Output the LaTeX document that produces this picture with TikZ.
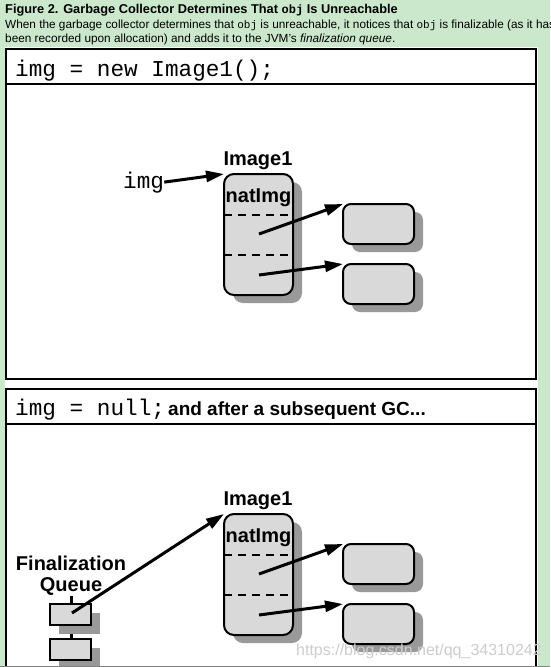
\documentclass[tikz,border=0pt]{standalone}
\usepackage{fontspec}
\setmainfont{Liberation Sans}
\newfontfamily\monofont{Liberation Mono}
\usetikzlibrary{arrows.meta,shadows}
\definecolor{bggreen}{RGB}{204,232,204}
\definecolor{boxgray}{RGB}{217,217,217}
\definecolor{shadowgray}{RGB}{153,153,153}
\definecolor{wmgray}{RGB}{205,205,205}
\tikzset{
  panel/.style={draw=black, line width=1.5pt},
  bigbox/.style={draw, line width=2pt, rounded corners=10pt, fill=boxgray,
    minimum width=69pt, minimum height=121pt, inner sep=0pt, outer sep=0pt,
    drop shadow={shadow xshift=9pt, shadow yshift=-8pt, fill=shadowgray, opacity=1}},
  smallbox/.style={draw, line width=2pt, rounded corners=8pt, fill=boxgray,
    minimum width=71pt, minimum height=40pt, inner sep=0pt, outer sep=0pt,
    drop shadow={shadow xshift=9pt, shadow yshift=-8pt, fill=shadowgray, opacity=1}},
  qbox/.style={draw, line width=2pt, fill=boxgray,
    minimum width=41pt, minimum height=21pt, inner sep=0pt, outer sep=0pt,
    drop shadow={shadow xshift=9pt, shadow yshift=-9pt, fill=shadowgray, opacity=1}},
  arr/.style={line width=3pt, -{Triangle[length=18pt,width=11pt]}},
  dashsep/.style={line width=1.8pt, dash pattern=on 8pt off 6pt},
  lab/.style={font=\fontsize{20}{22}\selectfont\bfseries, inner sep=0pt},
  code/.style={font=\fontsize{22.7}{24}\selectfont\monofont, inner sep=0pt},
  ttl/.style={font=\fontsize{11.8}{14}\selectfont, inner sep=0pt, anchor=base west},
}
\begin{document}
\begin{tikzpicture}[x=1pt,y=-1pt]
\useasboundingbox (0,0) rectangle (550,667);
\clip (0,0) rectangle (550,667);
\fill[bggreen] (0,0) rectangle (550,667);
\fill[white] (5,47) rectangle (538,667);
% title
\node[ttl, font=\fontsize{12.8}{14}\selectfont\bfseries] (t1) at (5,13) {Figure 2. Garbage Collector Determines That {\monofont\fontsize{12}{14}\selectfont obj} Is Unreachable};
\node[ttl] (t2) at (5,28) {When the garbage collector determines that {\monofont\fontsize{11}{14}\selectfont obj} is unreachable, it notices that {\monofont\fontsize{11}{14}\selectfont obj} is finalizable (as it has};
\node[ttl] (t3) at (5,42) {been recorded upon allocation) and adds it to the JVM's \textit{finalization queue}.};
% panel 1
\draw[panel] (6,49) rectangle (536,379);
\draw[panel] (6,84) -- (536,84);
\node[code, anchor=base west] (h1) at (15,76) {img = new Image1();};
\node[lab, anchor=base] (i1lab) at (258,165) {Image1};
\node[bigbox] (imgA) at (258.5,234.5) {};
\node[lab, anchor=base] (natA) at (258.5,202) {natImg};
\draw[dashsep] (imgA.west |- 0,215) -- (imgA.east |- 0,215);
\draw[dashsep] (imgA.west |- 0,255) -- (imgA.east |- 0,255);
\node[smallbox] (boxA1) at (378.5,224) {};
\node[smallbox] (boxB1) at (378.5,284) {};
\node[code, anchor=base west] (imgvar) at (123,188) {img};
\coordinate (s11) at (259,234);
\coordinate (s12) at (259,275);
\draw[arr] (imgvar.east) -- (imgA.north west);
\draw[arr] (s11) -- (boxA1.north west);
\draw[arr] (s12) -- (boxB1.north west);
% panel 2
\draw[panel] (6,389) rectangle (536,700);
\draw[panel] (6,424) -- (536,424);
\node[code, anchor=base west] (h2) at (15,415) {img = null;};
\node[anchor=base west, inner sep=0pt, font=\fontsize{19}{22}\selectfont\bfseries] (h2b) at (168,415) {and after a subsequent GC...};
\node[lab, anchor=base] (i2lab) at (258,505) {Image1};
\node[bigbox] (imgB) at (258.5,574.5) {};
\node[lab, anchor=base] (natB) at (258.5,542) {natImg};
\draw[dashsep] (imgB.west |- 0,555) -- (imgB.east |- 0,555);
\draw[dashsep] (imgB.west |- 0,595) -- (imgB.east |- 0,595);
\node[smallbox] (boxA2) at (378.5,564) {};
\node[smallbox] (boxB2) at (378.5,624) {};
\coordinate (s21) at (259,574);
\coordinate (s22) at (259,615);
\draw[arr] (s21) -- (boxA2.north west);
\draw[arr] (s22) -- (boxB2.north west);
\node[lab, anchor=base] (fin) at (71,570) {Finalization};
\node[lab, anchor=base] (que) at (71,591) {Queue};
\coordinate (qtop) at (71,596);
\coordinate (qbot) at (71,680);
\draw[line width=3pt] (qtop) -- (qbot);
\node[qbox] (q1) at (70.5,614.5) {};
\node[qbox] (q2) at (70.5,649.5) {};
\coordinate (qs) at (72,613);
\draw[arr] (qs) -- (imgB.north west);
\node[font=\fontsize{16}{18}\selectfont, text=wmgray, anchor=base west, inner sep=0pt] (wm) at (296,655) {https://blog.csdn.net/qq\_34310242};
\draw[line width=1pt, gray] (0,666.5) -- (550,666.5);
\end{tikzpicture}
\end{document}
